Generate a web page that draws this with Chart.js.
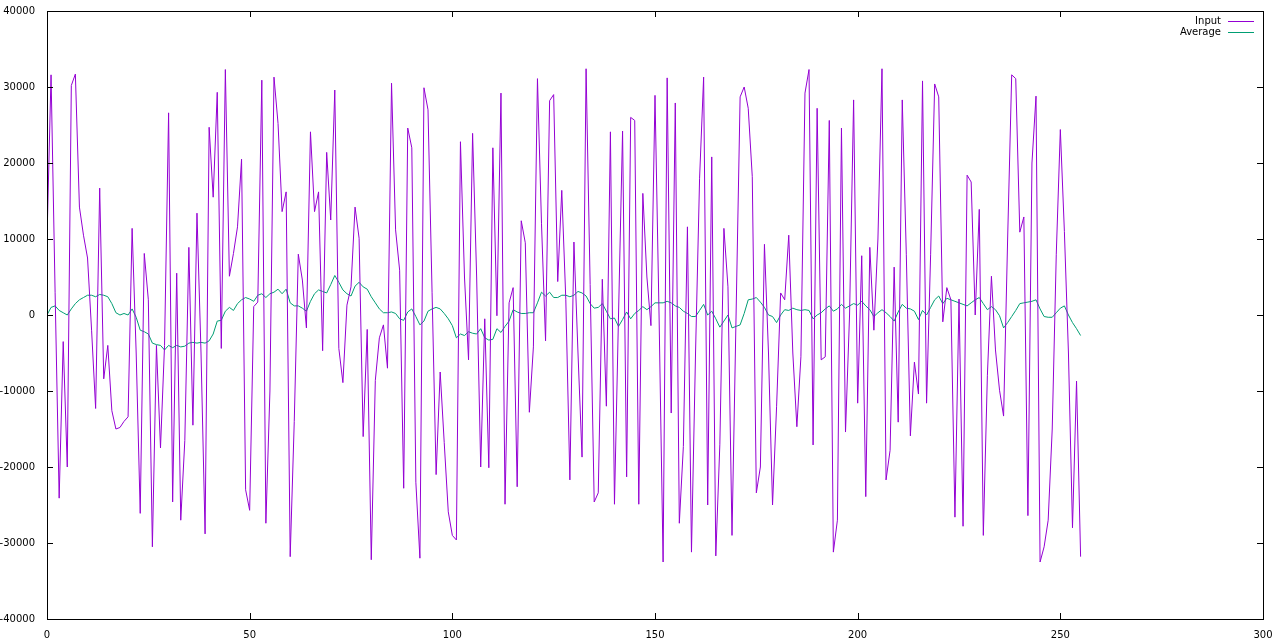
<!DOCTYPE html>
<html>
<head>
<meta charset="utf-8">
<script src="https://cdn.jsdelivr.net/npm/chart.js@4.4.1/dist/chart.umd.min.js"></script>
<style>
  html, body { margin: 0; padding: 0; background: #fff; }
  #wrap { width: 1280px; height: 640px; }
</style>
</head>
<body>
<div id="wrap"><canvas id="sigChart"></canvas></div>
<script>
// Input samples (index 0..255)
const inputValues = [
  10000,31600,3000,-24100,-3500,-20000,30200,31700,14200,10500,7500,-2000,-12300,16700,-8400,-4000,
  -12600,-15000,-14800,-14000,-13400,11400,-5000,-26100,8100,2000,-30500,-4000,-17500,-4000,26600,-24600,
  5500,-27000,-16500,8900,-14500,13400,-5000,-28800,24700,15500,29300,-4400,32300,5100,8100,11600,
  20500,-23000,-25700,1100,1700,30900,-27400,-10000,31300,25200,13600,16200,-31800,-14000,8000,4600,
  -1700,24100,13600,16200,-4700,21400,12500,29600,-4400,-8900,1300,3700,14200,10100,-16000,-1900,
  -32200,-8600,-3000,-1300,-7000,30500,11200,5900,-22800,24600,22000,-22000,-32000,29900,27000,3000,
  -21000,-7500,-16800,-25900,-29000,-29600,22800,5000,-5900,23900,5000,-20000,-500,-20100,22000,-100,
  29200,-24900,1600,3600,-22600,12400,9500,-12800,-4200,31100,12000,-3400,28200,29000,4400,16400,
  2000,-21700,9600,-5000,-18700,32400,4000,-24600,-23400,4700,-12000,24100,-24900,0,24200,-21300,
  26000,25600,-24900,16000,5000,-1400,28900,0,-32500,31200,-12900,27900,-27400,-17300,11600,-31200,
  -5000,18000,31300,-25000,20800,-31700,-17000,11400,3700,-29000,0,28700,30000,27200,18200,-23400,
  -20000,9300,-5000,-25000,-12000,2900,2000,10500,-5000,-14700,-5500,29200,32300,-17100,27200,-5900,
  -5500,25600,-31200,-27000,24600,-15400,0,28300,-11600,7800,-23900,8900,-2000,10000,32400,-21700,
  -17800,6300,-14100,28300,8000,-15900,-6200,-10400,30800,-11600,8000,30400,28700,-900,3600,2000,
  -26600,2100,-27800,18400,17500,0,13900,-29000,-8000,5100,-4600,-9900,-13300,10000,31600,31100,
  10900,12900,-26400,20000,28800,-32500,-30500,-27000,-15000,8000,24400,11000,-5000,-28000,-8700,-31800
];

// Running average
const averageValues = [
  0,1000,1200,600,300,0,800,1500,2000,2300,2600,2600,2400,2700,2600,2400,
  1500,300,0,200,0,800,-300,-2000,-2200,-2500,-3700,-3900,-4000,-4600,-4000,-4300,
  -4000,-4200,-4100,-3700,-3600,-3700,-3600,-3700,-3400,-2500,-800,-700,500,1000,600,1500,
  2000,2300,2100,1800,2600,2800,2300,2800,3000,3400,2800,3400,1600,1200,1200,900,
  500,1800,2800,3300,3100,2900,4000,5200,4300,3300,2800,2500,3800,4300,3700,3400,
  2400,1600,800,300,300,400,200,-500,-700,400,800,-200,-1300,-800,500,800,
  1000,800,200,-500,-1400,-3000,-2500,-2700,-2200,-2400,-2500,-1800,-3000,-3300,-3200,-1800,
  -2300,-1500,-800,700,400,200,200,300,300,1600,3000,2500,3000,2300,2300,2600,
  2600,2400,2600,3100,2900,2500,1500,900,1000,1500,500,-500,-400,-1500,-600,400,
  -500,200,600,1100,700,1100,1600,1600,1600,1800,1600,1200,1000,500,200,-200,
  -200,600,1400,0,500,-500,-1600,-800,0,-1700,-1500,-1300,200,2000,2100,2300,
  1700,1000,0,-200,-1000,0,700,600,900,700,600,700,600,-500,0,300,
  800,1200,500,800,1400,900,1200,1500,1300,1800,1200,700,-200,300,700,300,
  -200,-800,400,1400,900,800,500,-600,600,0,1000,2000,2500,1500,2200,2000,
  1800,1600,1400,1200,1600,2000,2300,1500,700,1100,700,-100,-1700,-1000,-200,600,
  1500,1600,1700,1800,2000,800,-200,-300,-300,300,900,1200,0,-1000,-1800,-2700
];

const xTicks = [0, 50, 100, 150, 200, 250, 300];
const yTicks = [-40000, -30000, -20000, -10000, 0, 10000, 20000, 30000, 40000];

const inputColor = '#9400d3';
const averageColor = '#009e73';

// gnuplot style frame: border box, inward ticks, legend top right
const gnuplotFrame = {
  id: 'gnuplotFrame',
  afterDraw(chart) {
    const { ctx, chartArea: a, scales } = chart;
    ctx.save();
    ctx.strokeStyle = '#000';
    ctx.lineWidth = 1;
    ctx.strokeRect(a.left + 0.5, a.top + 0.5, a.right - a.left, a.bottom - a.top);
    ctx.beginPath();
    xTicks.forEach(v => {
      const x = Math.round(scales.x.getPixelForValue(v)) + 0.5;
      ctx.moveTo(x, a.bottom); ctx.lineTo(x, a.bottom - 6);
      ctx.moveTo(x, a.top); ctx.lineTo(x, a.top + 6);
    });
    yTicks.forEach(v => {
      const y = Math.round(scales.y.getPixelForValue(v)) + 0.5;
      ctx.moveTo(a.left, y); ctx.lineTo(a.left + 6, y);
      ctx.moveTo(a.right, y); ctx.lineTo(a.right - 6, y);
    });
    ctx.stroke();

    // legend
    ctx.font = '10px "DejaVu Sans", sans-serif';
    ctx.textAlign = 'right';
    ctx.textBaseline = 'middle';
    chart.data.datasets.forEach((ds, i) => {
      const y = 21 + i * 11;
      ctx.fillStyle = '#000';
      ctx.fillText(ds.label, 1221, y);
      ctx.strokeStyle = ds.borderColor;
      ctx.beginPath();
      ctx.moveTo(1228, y + 0.5); ctx.lineTo(1254, y + 0.5);
      ctx.stroke();
    });
    ctx.restore();
  }
};

const ctx = document.getElementById('sigChart').getContext('2d');
new Chart(ctx, {
  type: 'line',
  data: {
    datasets: [
      {
        label: 'Input',
        data: inputValues.map((v, i) => ({ x: i, y: v })),
        borderColor: inputColor,
        borderWidth: 1,
        pointRadius: 0,
        tension: 0
      },
      {
        label: 'Average',
        data: averageValues.map((v, i) => ({ x: i, y: v })),
        borderColor: averageColor,
        borderWidth: 1,
        pointRadius: 0,
        tension: 0
      }
    ]
  },
  options: {
    responsive: true,
    maintainAspectRatio: false,
    animation: false,
    layout: { padding: { top: 11, right: 17, left: 0, bottom: 0 } },
    plugins: { legend: { display: false }, tooltip: { enabled: false } },
    scales: {
      x: {
        type: 'linear',
        min: 0, max: 300,
        afterBuildTicks: s => { s.ticks = xTicks.map(v => ({ value: v })); },
        afterFit: s => { s.height = 21; },
        grid: { display: false },
        border: { display: false },
        ticks: { color: '#000', font: { family: 'DejaVu Sans', size: 10 }, maxRotation: 0, padding: 2 }
      },
      y: {
        min: -40000, max: 40000,
        afterBuildTicks: s => { s.ticks = yTicks.map(v => ({ value: v })); },
        afterFit: s => { s.width = 47; },
        grid: { display: false },
        border: { display: false },
        ticks: { color: '#000', font: { family: 'DejaVu Sans', size: 10 }, padding: 4, callback: v => String(v) }
      }
    }
  },
  plugins: [gnuplotFrame]
});
</script>
</body>
</html>
